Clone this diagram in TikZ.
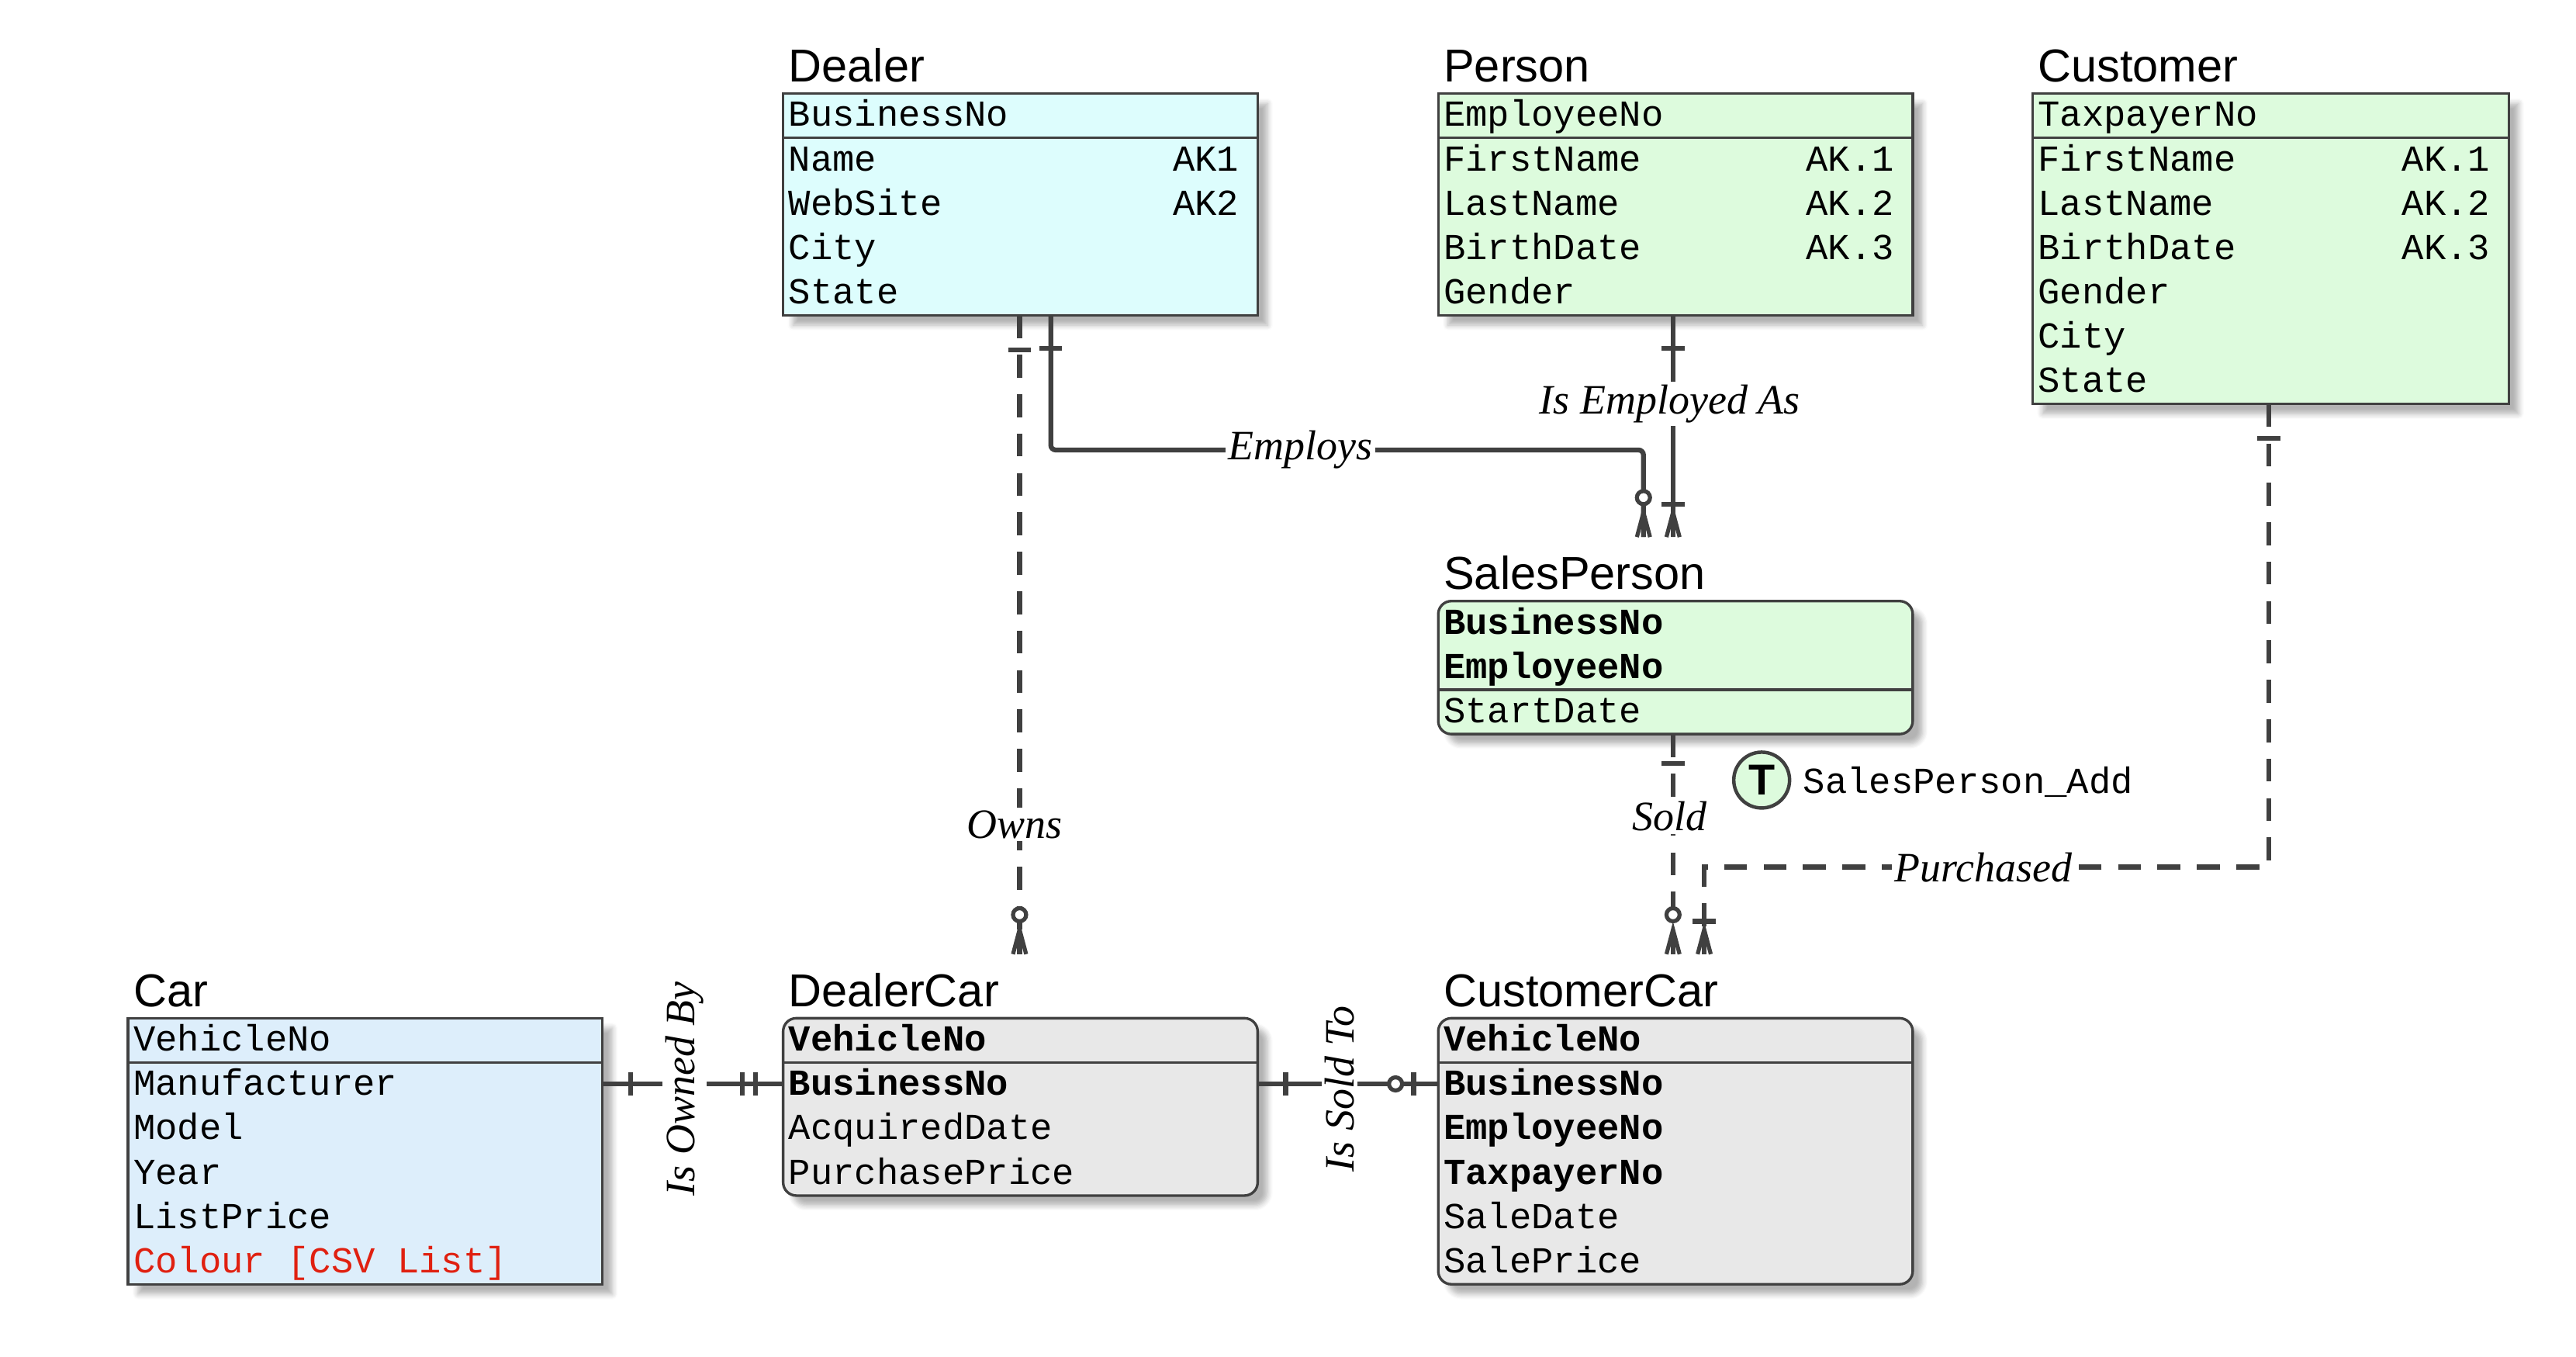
\documentclass[tikz,border=0pt]{standalone}
\usepackage{fontspec}
\setmainfont{Liberation Serif}
\setsansfont{Liberation Sans}
\setmonofont{Liberation Mono}
\usetikzlibrary{positioning, shadows.blur}

\newlength{\pu}\setlength{\pu}{0.02cm}
\definecolor{edge}{HTML}{404040}
\definecolor{cyanfill}{HTML}{DDFDFD}
\definecolor{greenfill}{HTML}{DDFBDD}
\definecolor{bluefill}{HTML}{DDEEFB}
\definecolor{grayfill}{HTML}{E8E8E8}
\definecolor{attrred}{HTML}{E02010}

\tikzset{
  box/.style={draw=edge, line width=0.9pt, inner sep=0pt, outer sep=0pt,
    blur shadow={shadow xshift=0.12cm, shadow yshift=-0.12cm, shadow blur steps=6, shadow opacity=30}},
  sep/.style={draw=edge, line width=0.9pt},
  title/.style={font=\sffamily\fontsize{16}{16}\selectfont, inner sep=0pt, anchor=base west},
  attr/.style={font=\ttfamily\fontsize{12.7}{13}\selectfont, inner sep=0pt, anchor=base west},
  key/.style={attr, font=\ttfamily\bfseries\fontsize{12.7}{13}\selectfont},
  ak/.style={attr, anchor=base east},
  rel/.style={draw=edge, line width=1.7pt},
  opt/.style={rel, dash pattern=on 0.28cm off 0.2cm},
  lbl/.style={font=\itshape\fontsize{14.5}{15}\selectfont, fill=white, inner sep=1pt},
}

% entity box: name, top-left, width, rows, key rows, style
\newcommand{\entity}[6]{%
  \node[box, #6, anchor=north west, minimum width={#3*\pu}, minimum height={#4*27*\pu}] (#1) at #2 {};
  \draw[sep] ([yshift={-#5*27*\pu}]#1.north west) -- ([yshift={-#5*27*\pu}]#1.north east);
}
% row text
\newcommand{\row}[4][attr]{\node[#1] at ([xshift={3*\pu}, yshift={-(#3-0.26)*27*\pu}]#2.north west) {#4};}
\newcommand{\akey}[3]{\node[ak] at ([xshift={-11*\pu}, yshift={-(#2-0.26)*27*\pu}]#1.north east) {#3};}
% relationship ends
\newcommand{\erbarv}[2]{\draw[rel] (#1-7,#2) -- (#1+7,#2);}
\newcommand{\erbarh}[2]{\draw[rel] (#1,#2-7) -- (#1,#2+7);}
\newcommand{\ercrow}[2]{\draw[rel, line width=1.4pt] (#1-4,#2) -- (#1,#2-15) -- (#1+4,#2) (#1,#2-15) -- (#1,#2);}
\newcommand{\ercircv}[2]{\draw[rel, fill=white, line width=1.4pt] (#1,#2) circle[radius={4*\pu}];}

\begin{document}
\begin{tikzpicture}[x=\pu, y=-\pu]
  \useasboundingbox (0,0) rectangle (1569,826);

  % entities
  \entity{dealer}{(477,57)}{289}{5}{1}{fill=cyanfill}
  \node[title] (dealerT) at (480,50) {Dealer};
  \row{dealer}{1}{BusinessNo}
  \row{dealer}{2}{Name}\akey{dealer}{2}{AK1}
  \row{dealer}{3}{WebSite}\akey{dealer}{3}{AK2}
  \row{dealer}{4}{City}
  \row{dealer}{5}{State}

  \entity{person}{(876,57)}{289}{5}{1}{fill=greenfill}
  \node[title] (personT) at (879,50) {Person};
  \row{person}{1}{EmployeeNo}
  \row{person}{2}{FirstName}\akey{person}{2}{AK.1}
  \row{person}{3}{LastName}\akey{person}{3}{AK.2}
  \row{person}{4}{BirthDate}\akey{person}{4}{AK.3}
  \row{person}{5}{Gender}

  \entity{customer}{(1238,57)}{290}{7}{1}{fill=greenfill}
  \node[title] (customerT) at (1241,50) {Customer};
  \row{customer}{1}{TaxpayerNo}
  \row{customer}{2}{FirstName}\akey{customer}{2}{AK.1}
  \row{customer}{3}{LastName}\akey{customer}{3}{AK.2}
  \row{customer}{4}{BirthDate}\akey{customer}{4}{AK.3}
  \row{customer}{5}{Gender}
  \row{customer}{6}{City}
  \row{customer}{7}{State}

  \entity{salesperson}{(876,366)}{289}{3}{2}{fill=greenfill, rounded corners={8*\pu}}
  \node[title] (salespersonT) at (879,359) {SalesPerson};
  \row[key]{salesperson}{1}{BusinessNo}
  \row[key]{salesperson}{2}{EmployeeNo}
  \row{salesperson}{3}{StartDate}

  \entity{car}{(78,620)}{289}{6}{1}{fill=bluefill}
  \node[title] (carT) at (81,613) {Car};
  \row{car}{1}{VehicleNo}
  \row{car}{2}{Manufacturer}
  \row{car}{3}{Model}
  \row{car}{4}{Year}
  \row{car}{5}{ListPrice}
  \row[attr, text=attrred]{car}{6}{Colour [CSV List]}

  \entity{dealercar}{(477,620)}{289}{4}{1}{fill=grayfill, rounded corners={8*\pu}}
  \node[title] (dealercarT) at (480,613) {DealerCar};
  \row[key]{dealercar}{1}{VehicleNo}
  \row[key]{dealercar}{2}{BusinessNo}
  \row{dealercar}{3}{AcquiredDate}
  \row{dealercar}{4}{PurchasePrice}

  \entity{customercar}{(876,620)}{289}{6}{1}{fill=grayfill, rounded corners={8*\pu}}
  \node[title] (customercarT) at (879,613) {CustomerCar};
  \row[key]{customercar}{1}{VehicleNo}
  \row[key]{customercar}{2}{BusinessNo}
  \row[key]{customercar}{3}{EmployeeNo}
  \row[key]{customercar}{4}{TaxpayerNo}
  \row{customercar}{5}{SaleDate}
  \row{customercar}{6}{SalePrice}

  % trigger
  \node[circle, draw=edge, line width=1.2pt, fill=greenfill, minimum size={34*\pu}, inner sep=0pt,
        font=\sffamily\bfseries\fontsize{15}{15}\selectfont] (trig) at (1073,475) {T};
  \node[attr, anchor=west] (trigT) at (1098,476) {SalesPerson\_Add};

  % connector ends
  \coordinate (ownsE) at (621,581);
  \coordinate (employsE) at (1001,327);
  \coordinate (empAsE) at (1019,327);
  \coordinate (soldE) at (1019,581);
  \coordinate (purchE) at (1038,581);

  % Owns
  \draw[opt] (dealer.south -| ownsE) -- (ownsE);
  \node[lbl] at (618,502) {Owns};
  \erbarv{621}{213}\ercircv{621}{557}\ercrow{621}{581}
  % Employs
  \draw[rel, rounded corners={3*\pu}] (dealer.south -| 640,0) |- (1001,274) -- (employsE);
  \node[lbl] at (792,274) {Employs};
  \erbarv{640}{212}\ercircv{1001}{303}\ercrow{1001}{327}
  % Is Employed As
  \draw[rel] (person.south -| empAsE) -- (empAsE);
  \node[lbl] at (1017,246) {Is Employed As};
  \erbarv{1019}{212}\erbarv{1019}{307}\ercrow{1019}{327}
  % Sold
  \draw[opt] (salesperson.south -| soldE) -- (soldE);
  \node[lbl] at (1017,497) {Sold};
  \erbarv{1019}{465}\ercircv{1019}{557}\ercrow{1019}{581}
  % Purchased
  \draw[opt] (customer.south -| 1382,0) |- (1038,528) -- (purchE);
  \node[lbl] at (1208,528) {Purchased};
  \erbarv{1382}{267}\erbarv{1038}{561}\ercrow{1038}{581}
  % Is Owned By
  \draw[rel] (car.east |- 0,660) -- (dealercar.west |- 0,660);
  \node[lbl, rotate=90] at (417,663) {Is Owned By};
  \erbarh{384}{660}\erbarh{452}{660}\erbarh{460}{660}
  % Is Sold To
  \draw[rel] (dealercar.east |- 0,660) -- (customercar.west |- 0,660);
  \node[lbl, rotate=90] at (816,663) {Is Sold To};
  \erbarh{783}{660}\erbarh{861}{660}
  \draw[rel, fill=white, line width=1.4pt] (850,660) circle[radius={4*\pu}];
\end{tikzpicture}
\end{document}
